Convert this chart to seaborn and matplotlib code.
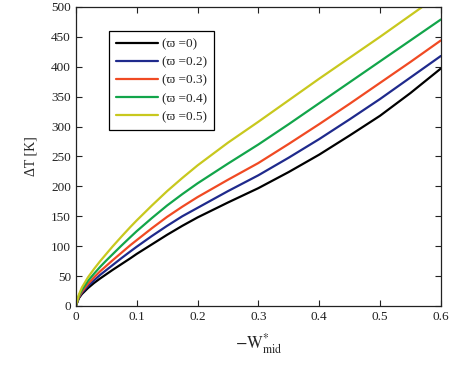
import numpy as np
import pandas as pd
import matplotlib
matplotlib.use("Agg")
import matplotlib.pyplot as plt
import seaborn as sns

# valores
w_mid = [0, 0.005, 0.01, 0.02, 0.03, 0.04, 0.05, 0.06, 0.075, 0.09, 0.1, 0.125,
         0.15, 0.175, 0.2, 0.25, 0.3, 0.35, 0.4, 0.45, 0.5, 0.55, 0.6]
dt_0 = [0, 13, 20, 30, 38.5, 46, 53, 60, 70, 80, 87, 103, 119, 134, 148, 173,
        197, 224, 253, 285, 318, 356, 397]
dt_02 = [0, 14, 22, 33.5, 43, 52, 60, 68, 80, 91.5, 99, 117, 134, 150, 164, 192,
         218.5, 248, 279, 312, 346, 382, 418]
dt_03 = [0, 15, 24, 37, 48, 58, 67, 76, 89, 102, 110, 130, 149, 166, 182, 211,
         239, 271, 304, 338, 373, 408, 444]
dt_04 = [0, 17, 27, 42, 54, 65.5, 76, 86, 101, 115.5, 125, 147, 168, 187, 205, 238,
         270, 304, 339, 374, 409, 444, 479]
dt_05 = [0, 19, 31, 48, 62, 75, 87, 99, 116, 132.5, 143, 168, 192, 214, 235, 273,
         308, 344, 380, 415, 450, 486, 522]

rotulos = ["(\u03d6 =0)", "(\u03d6 =0.2)", "(\u03d6 =0.3)", "(\u03d6 =0.4)", "(\u03d6 =0.5)"]
cores = ["#000000", "#1f2a8c", "#f04a23", "#12a54a", "#c8c81e"]

series = [dt_0, dt_02, dt_03, dt_04, dt_05]
df = pd.concat([
    pd.DataFrame({"W": w_mid, "dT": s, "caso": r}) for s, r in zip(series, rotulos)
])

sns.set_style("ticks")
plt.rcParams["font.family"] = ["Liberation Serif", "DejaVu Serif"]
plt.rcParams["mathtext.fontset"] = "stix"

fig = plt.figure(figsize=(4.74, 3.66), dpi=100)
ax = fig.add_axes([0.160, 0.164, 0.770, 0.817])

sns.lineplot(data=df, x="W", y="dT", hue="caso", palette=cores, linewidth=1.6,
             sort=False, ax=ax)

ax.set_xlim(0, 0.6)
ax.set_ylim(0, 500)
ax.set_xticks([0, 0.1, 0.2, 0.3, 0.4, 0.5, 0.6])
ax.set_xticklabels(["0", "0.1", "0.2", "0.3", "0.4", "0.5", "0.6"])
ax.set_yticks(range(0, 501, 50))
ax.tick_params(direction="in", top=True, right=True, labelsize=9.5, length=4,
               width=0.8, colors="#222222")
for s in ax.spines.values():
    s.set_linewidth(0.9)
    s.set_color("#222222")

ax.set_xlabel(r"$-\mathrm{W}^{*}_{\mathrm{mid}}$", fontsize=12, labelpad=6)
ax.set_ylabel("\u0394T [K]", fontsize=10, labelpad=10)

leg = ax.legend(loc="upper left", bbox_to_anchor=(0.074, 0.94), fancybox=False,
                edgecolor="black", framealpha=1, fontsize=9.5, handlelength=3.2,
                borderpad=0.5, labelspacing=0.45, handletextpad=0.3)
leg.get_frame().set_linewidth(0.9)

fig.savefig("out.png", dpi=100)
